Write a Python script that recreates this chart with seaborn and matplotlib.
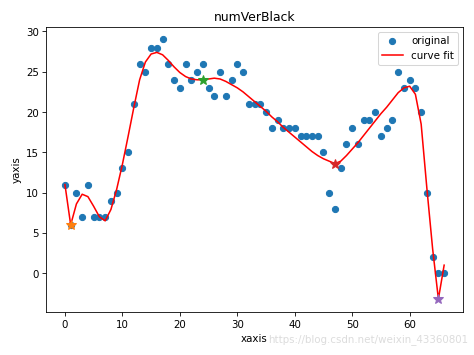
import matplotlib
matplotlib.use("Agg")
import matplotlib.pyplot as plt
import seaborn as sns
import pandas as pd
import numpy as np

# data
x_data = list(range(67))
y_data = [11, 6, 10, 7, 11, 7, 7, 7, 9, 10,
          13, 15, 21, 26, 25, 28, 28, 29, 26, 24,
          23, 26, 24, 25, 26, 23, 22, 25, 22, 24,
          26, 25, 21, 21, 21, 20, 18, 19, 18, 18,
          18, 17, 17, 17, 17, 15, 10, 8, 13, 16,
          18, 16, 19, 19, 20, 17, 18, 19, 25, 23,
          24, 23, 20, 10, 2, 0, 0]

# fitted curve, evaluated at the same x values
y_fit = [11.0, 6.0, 8.6, 9.8, 9.5, 8.3, 7.0, 6.5, 7.9, 10.4,
         13.5, 17.0, 20.6, 24.0, 26.2, 27.2, 27.4, 27.1, 26.4, 25.6,
         24.9, 24.4, 24.1, 24.0, 24.0, 24.1, 24.2, 24.1, 23.8, 23.4,
         23.0, 22.5, 21.9, 21.3, 20.7, 20.1, 19.4, 18.8, 18.1, 17.5,
         16.9, 16.3, 15.7, 15.1, 14.6, 14.2, 13.9, 13.6, 13.9, 14.6,
         15.4, 16.2, 17.1, 18.0, 18.9, 19.8, 20.6, 21.5, 22.4, 23.0,
         23.2, 22.2, 18.5, 10.5, 3.0, -3.2, 1.0]

# extreme points of the fitted curve
star_x = [1, 24, 47, 65]
star_y = [6.0, 24.0, 13.6, -3.2]
star_colors = ['#ff7f0e', '#2ca02c', '#d62728', '#9467bd']

df = pd.DataFrame({'x': x_data, 'y': y_data, 'fit': y_fit})

# default 6.4x4.8 figure, rendered down to 474x355
fig, ax = plt.subplots(figsize=(6.4, 4.8), dpi=474 / 6.4)
fig.subplots_adjust(left=0.097, right=0.977, bottom=0.121, top=0.924)

sns.scatterplot(data=df, x='x', y='y', ax=ax, color='#1f77b4', s=36,
                edgecolor='#1f77b4', linewidth=1, label='original')
sns.lineplot(data=df, x='x', y='fit', ax=ax, color='red', linewidth=1.5,
             label='curve fit')
for sx, sy, c in zip(star_x, star_y, star_colors):
    ax.plot(sx, sy, '*', color=c, markersize=10)

ax.set_title('numVerBlack')
ax.set_xlabel('xaxis')
ax.set_ylabel('yaxis')
ax.legend(loc='upper right')

fig.text(268 / 474, 1 - 339 / 355, 'https://blog.csdn.net/weixin_43360801',
         fontsize=10, color='#dcdcdc', va='center')

plt.savefig('out.png', dpi=474 / 6.4)
